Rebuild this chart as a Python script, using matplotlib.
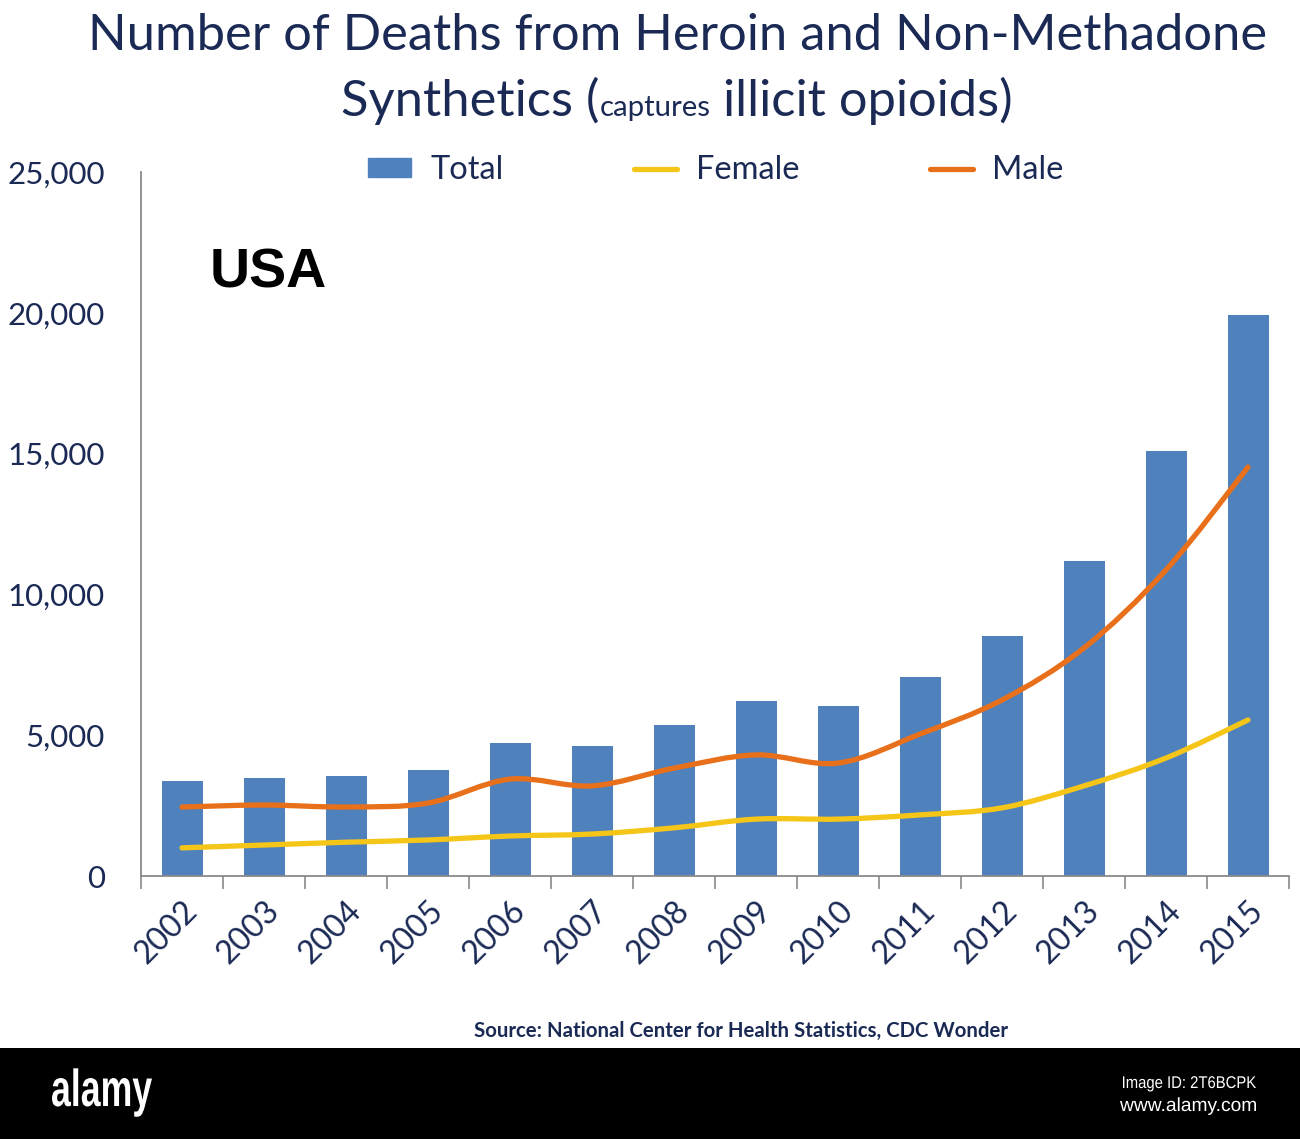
import matplotlib
matplotlib.use('Agg')
import matplotlib.pyplot as plt
from matplotlib.path import Path
from matplotlib.patches import PathPatch, Rectangle, Patch
from matplotlib.lines import Line2D
from matplotlib.textpath import TextPath
from matplotlib.font_manager import FontProperties
from matplotlib.transforms import Affine2D
from matplotlib.ticker import FuncFormatter, FixedLocator
import numpy as np

years = ['2002', '2003', '2004', '2005', '2006', '2007', '2008',
         '2009', '2010', '2011', '2012', '2013', '2014', '2015']
total = [3380, 3480, 3550, 3760, 4720, 4620, 5360,
         6210, 6040, 7070, 8520, 11190, 15090, 19920]
female = [1000, 1100, 1200, 1280, 1420, 1490, 1710,
          2020, 2020, 2170, 2420, 3200, 4190, 5540]
male = [2450, 2520, 2450, 2590, 3440, 3200, 3830,
        4300, 4010, 5040, 6250, 8100, 10870, 14520]

yticks = [0, 5000, 10000, 15000, 20000, 25000]

W, H = 1300, 1139
FONT = ['Lato', 'DejaVu Sans']
NAVY = '#1b2a55'
BLUE = '#4f81bd'
YELLOW = '#f5c518'
ORANGE = '#e8701a'
GRAY = '#8a8a8a'

plt.rcParams['font.family'] = FONT

fig = plt.figure(figsize=(W / 100, H / 100), dpi=100)
fig.patch.set_facecolor('white')

ax = fig.add_axes([141 / W, 1 - 876 / H, (1289 - 141) / W, (876 - 172) / H])
x = np.arange(len(years))
ax.bar(x, total, width=0.5, color=BLUE, zorder=2)


def smooth_patch(xs, ys, color, lw):
    xs = np.asarray(xs, float)
    ys = np.asarray(ys, float)
    P = np.column_stack([xs, ys])
    n = len(P)
    verts = [P[0]]
    codes = [Path.MOVETO]
    for i in range(n - 1):
        p0 = P[i - 1] if i > 0 else P[i]
        p1 = P[i]
        p2 = P[i + 1]
        p3 = P[i + 2] if i + 2 < n else P[i + 1]
        c1 = p1 + (p2 - p0) / 6.0
        c2 = p2 - (p3 - p1) / 6.0
        verts += [c1, c2, p2]
        codes += [Path.CURVE4] * 3
    patch = PathPatch(Path(verts, codes), fill=False, edgecolor=color,
                      lw=lw, capstyle='round', joinstyle='round', zorder=3)
    ax.add_patch(patch)


smooth_patch(x, female, YELLOW, 3.8)
smooth_patch(x, male, ORANGE, 3.8)

ax.set_xlim(-0.5, len(years) - 0.5)
ax.set_ylim(0, 25000)
ax.set_yticks(yticks)
ax.yaxis.set_major_formatter(FuncFormatter(lambda v, p: f'{int(v):,}'))
ax.tick_params(axis='y', length=0, pad=26, labelsize=22.5, labelcolor=NAVY)

ax.set_xticks(x)
ax.set_xticklabels(years, rotation=45, ha='right', rotation_mode='anchor')
ax.tick_params(axis='x', which='major', length=0, pad=14, labelsize=23,
               labelcolor=NAVY)
ax.xaxis.set_minor_locator(FixedLocator(np.arange(-0.5, len(years), 1.0)))
ax.tick_params(axis='x', which='minor', length=9, width=1.2, color=GRAY)

for s in ['top', 'right']:
    ax.spines[s].set_visible(False)
for s in ['left', 'bottom']:
    ax.spines[s].set_color(GRAY)
    ax.spines[s].set_linewidth(1.3)

# Legend
handles = [Patch(facecolor=BLUE, edgecolor=BLUE),
           Line2D([0], [0], color=YELLOW, lw=3.8, solid_capstyle='round'),
           Line2D([0], [0], color=ORANGE, lw=3.8, solid_capstyle='round')]
leg = fig.legend(handles, ['Total', 'Female', 'Male'], ncol=3, frameon=False,
                 loc='center', bbox_to_anchor=(716 / W, 1 - 170 / H),
                 fontsize=23.5, handlelength=1.3, handleheight=0.5,
                 handletextpad=0.6, columnspacing=4.0, labelcolor=NAVY)

# USA label
fig.text(210 / W, 1 - 287 / H, 'USA', fontsize=40, fontweight='bold',
         family=['Liberation Sans', 'DejaVu Sans'], color='black',
         ha='left', va='baseline')

# Title
fig.canvas.draw()
renderer = fig.canvas.get_renderer()
t1 = fig.text(678 / W, 1 - 50 / H, 'Number of Deaths from Heroin and Non-Methadone',
              fontsize=32, color=NAVY, ha='center', va='baseline')
bb = t1.get_window_extent(renderer)
scale = 1180 / bb.width
fs_main = 32 * scale
t1.set_fontsize(fs_main)

parts = [('Synthetics (', fs_main), ('captures', fs_main * 0.58), (' illicit opioids)', fs_main)]
texts = []
for s, fs in parts:
    texts.append(fig.text(0, 1 - 116 / H, s, fontsize=fs, color=NAVY,
                          ha='left', va='baseline'))
widths = [t.get_window_extent(renderer).width for t in texts]
start = 677 - sum(widths) / 2
cur = start
for t, w in zip(texts, widths):
    t.set_x(cur / W)
    cur += w

# Source
fig.text(741 / W, 1 - 1037 / H,
         'Source: National Center for Health Statistics, CDC Wonder',
         fontsize=14.7, fontweight='bold', color=NAVY, ha='center', va='baseline')

# Bottom stock-photo strip
fig.patches.append(Rectangle((0, 0), 1, (H - 1048) / H, transform=fig.transFigure,
                             facecolor='black', edgecolor='none', zorder=0))


def condensed_text(s, x0, y0, height_px, width_px, prop):
    tp = TextPath((0, 0), s, size=100, prop=prop)
    ext = tp.get_extents()
    sx = width_px / ext.width
    sy = height_px / 100.0
    tr = Affine2D().translate(-ext.x0, 0).scale(sx, sy).translate(x0, H - y0)
    p = PathPatch(tr.transform_path(tp), facecolor='white', edgecolor='none',
                  transform=None)
    fig.patches.append(p)


condensed_text('alamy', 52, 1106, 52, 100,
               FontProperties(family='Liberation Sans', weight='bold'))
condensed_text('Image ID: 2T6BCPK', 1123, 1088, 17, 133,
               FontProperties(family='Liberation Sans'))
condensed_text('www.alamy.com', 1120, 1111, 19, 136,
               FontProperties(family='Liberation Sans'))

fig.savefig('out.png', dpi=100, facecolor='white')
